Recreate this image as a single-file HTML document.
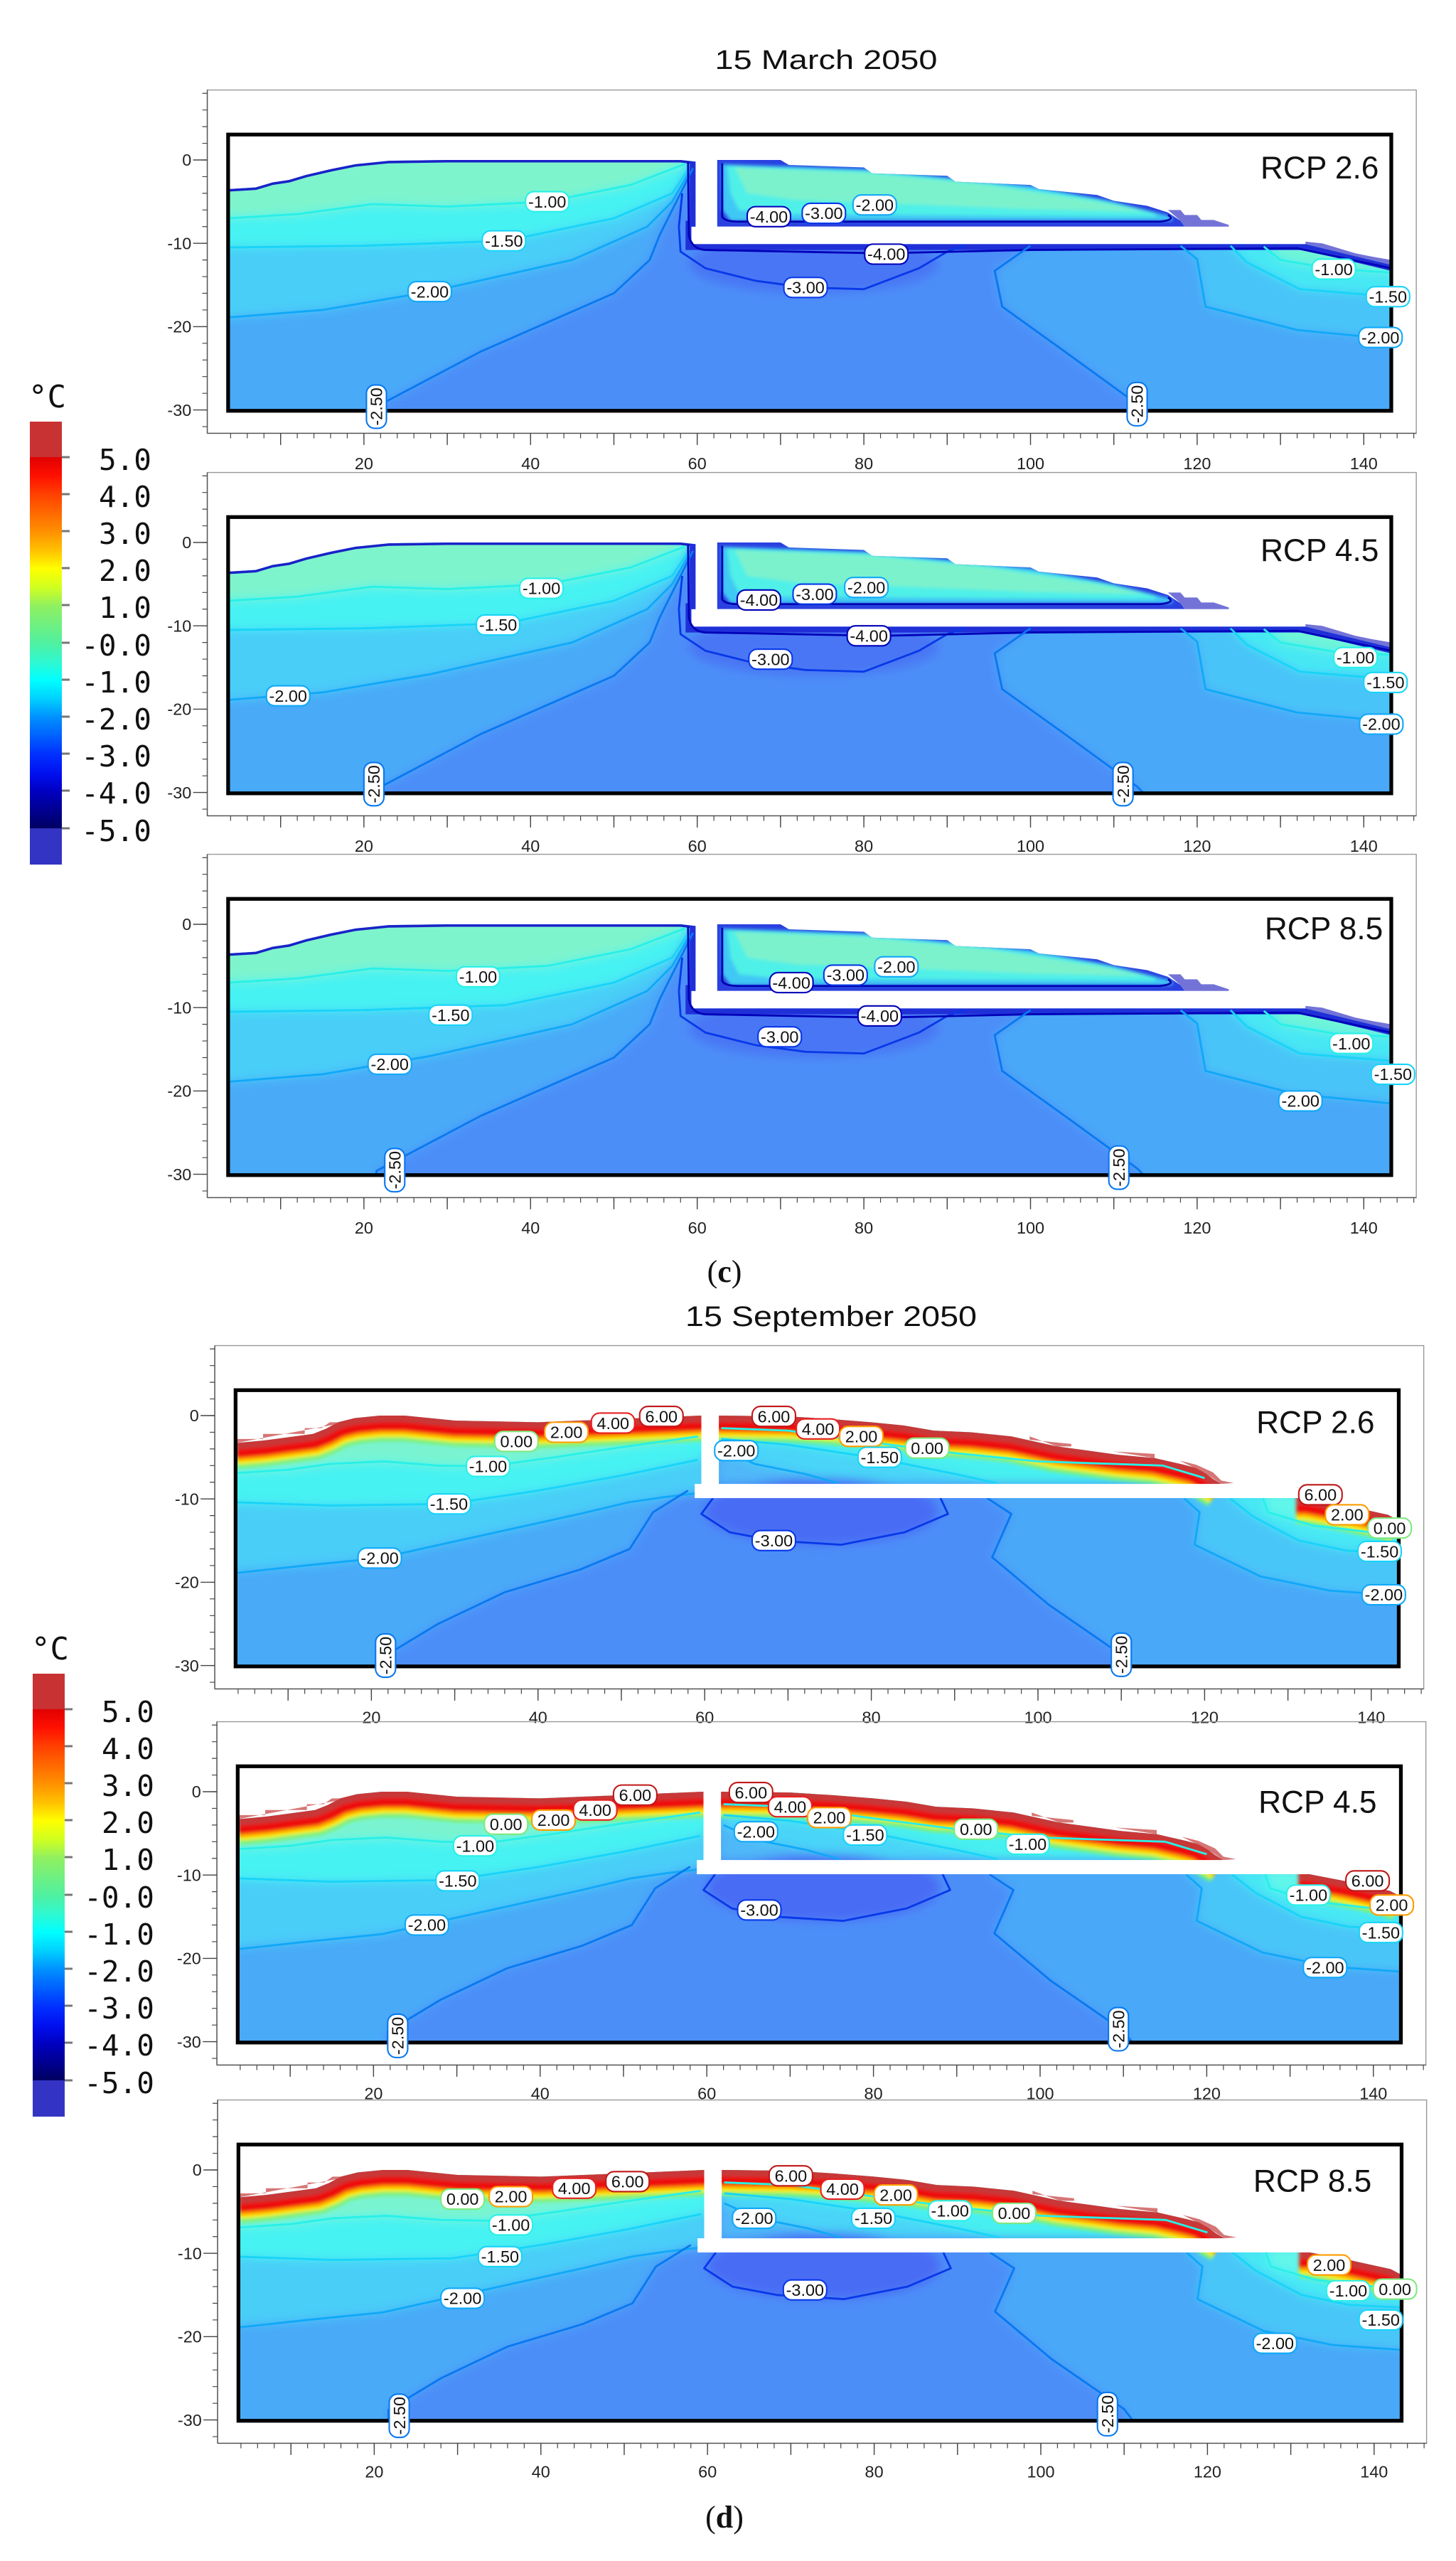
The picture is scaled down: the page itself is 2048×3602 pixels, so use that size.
<!DOCTYPE html>
<html><head><meta charset="utf-8">
<style>
html,body{margin:0;padding:0;background:#fff}
svg{display:block}
.lb{fill:#fff;stroke-width:.18}
.lt{font-family:"Liberation Sans",sans-serif;font-size:2px;text-anchor:middle;fill:#111}
.tk{font-family:"Liberation Sans",sans-serif;font-size:2px;fill:#222}
.rcp{font-family:"Liberation Sans",sans-serif;font-size:3.8px;fill:#111;text-anchor:end}
.cb{font-family:"DejaVu Sans Mono","Liberation Mono",monospace;font-size:41px;fill:#111;text-anchor:end}
.k1{stroke:#28f0e8}.k15{stroke:#18d4f8}.k2{stroke:#10a8f8}.k25{stroke:#0878f0}.k3{stroke:#0838e8}.k4{stroke:#0000b8}
.k0{stroke:#80e880}.kp2{stroke:#ff9c00}.kp4{stroke:#e82020}.kp6{stroke:#c01818}
.cl{fill:none;stroke-width:.24;stroke-linejoin:round}
</style></head>
<body>
<svg xmlns="http://www.w3.org/2000/svg" width="2048" height="3602" viewBox="0 0 2048 3602">
<defs>
<filter id="bl" filterUnits="userSpaceOnUse" x="-10" y="-15" width="170" height="60"><feGaussianBlur stdDeviation="0.6"/></filter>
<filter id="bl2" filterUnits="userSpaceOnUse" x="-10" y="-15" width="170" height="60"><feGaussianBlur stdDeviation="0.2"/></filter>
<linearGradient id="cbg" x1="0" y1="0" x2="0" y2="1">
<stop offset="0" stop-color="#e00000"/><stop offset=".05" stop-color="#ff1000"/><stop offset=".1" stop-color="#ff4000"/>
<stop offset=".2" stop-color="#ff9000"/><stop offset=".25" stop-color="#ffc000"/><stop offset=".3" stop-color="#ffff00"/>
<stop offset=".35" stop-color="#d0ff20"/><stop offset=".4" stop-color="#90f060"/><stop offset=".5" stop-color="#50f0a0"/>
<stop offset=".55" stop-color="#30f8d0"/><stop offset=".6" stop-color="#00ffff"/><stop offset=".65" stop-color="#00d0ff"/>
<stop offset=".7" stop-color="#0090ff"/><stop offset=".75" stop-color="#0060ff"/><stop offset=".8" stop-color="#0030ff"/>
<stop offset=".85" stop-color="#0010f0"/><stop offset=".9" stop-color="#0000c0"/><stop offset=".95" stop-color="#000090"/>
<stop offset="1" stop-color="#000060"/></linearGradient>

<clipPath id="mclip"><path d="M3.7,3.5 L7,3.3 L9,2.7 L11,2.4 L13,1.8 L16,1.1 L19,0.5 L23,0.1 L30,0 L58,0 L59.8,0.2 L59.8,8 L59.3,8 L59.3,10.1 L133,10.1 L143.3,12.6 L143.3,30.1 L3.7,30.1 Z"/></clipPath>
<clipPath id="mup"><path d="M62.4,0 L70,0 L71,0.6 L80,0.9 L81,1.6 L90,1.9 L91,2.6 L100,3 L101,3.5 L108,4.2 L110,4.9 L114,5.5 L116.5,6.3 L118,7.3 L118.5,8 L62.4,8 Z"/></clipPath>
<clipPath id="sclip"><path d="M3.7,3.3 L7,3.0 L10,2.6 L13,2.2 L14.5,1.6 L16,0.8 L18,0.3 L21,0 L24,0 L27,0.3 L30,0.6 L40,0.8 L50,0.4 L59.5,0 L62,0 L70,0.1 L75,0.4 L80,0.8 L84,1.2 L87.5,1.8 L92,2.0 L96.8,2.5 L100,3.2 L102.3,3.7 L106,4.2 L109.6,4.7 L114,5.1 L117.5,5.9 L119,6.3 L120.2,7 L121,7.6 L122,8.2 L122,9.9 L132.3,9.9 L137,10.8 L142,11.9 L143.3,12.6 L143.3,30.1 L3.7,30.1Z"/></clipPath>

<g id="ax">
<rect x="1.2" y="-8.4" width="145.1" height="41.2" fill="none" stroke="#999" stroke-width="0.12"/>
<line x1="1.2" y1="-8.4" x2="1.2" y2="32.8" stroke="#555" stroke-width="0.12"/>
<line x1="1.2" y1="32.8" x2="146.3" y2="32.8" stroke="#555" stroke-width="0.12"/>
<line x1="0.9" y1="-8.05" x2="0.9" y2="33" stroke="#444" stroke-width="0.6" stroke-dasharray="0.1 1.9"/>
<line x1="0.35" y1="-0.06" x2="0.35" y2="31" stroke="#444" stroke-width="1.7" stroke-dasharray="0.12 9.88"/>
<line x1="3.95" y1="33.1" x2="146.5" y2="33.1" stroke="#444" stroke-width="0.6" stroke-dasharray="0.1 1.9"/>
<line x1="9.94" y1="33.5" x2="141" y2="33.5" stroke="#444" stroke-width="1.4" stroke-dasharray="0.12 9.88"/>
</g>

<g id="mf">
<g clip-path="url(#mclip)">
<rect x="0" y="-2" width="146" height="34" fill="#4c8ef8"/>
<g filter="url(#bl)">
<path fill="#4aaaf8" d="M0,32 L21.5,32 L21.5,29.6 L34,23 L50,16 L54.3,12 L55.5,9 L58,4 L59.5,1 L60,-2 L0,-2 Z"/>
<path fill="#48cef8" d="M0,18.9 L3.7,18.9 L15,18 L28,15.8 L45,12 L54,8 L57,5 L59,1.5 L60,-2 L0,-2Z"/>
<path fill="#46f2f2" d="M0,10.5 L20,10.3 L37,9.7 L50,7 L57,4 L59,1 L60,-2 L0,-2Z"/>
<path fill="#7ef4cc" d="M0,7 L12,6.5 L21,5.3 L30,5.6 L42,5 L52,3 L58.5,0.5 L59,-2 L0,-2Z"/>
<path fill="#4aa8f8" d="M100,9 L100,10.3 L97.7,11.9 L95.7,13.3 L96.6,17.6 L104.4,23.2 L112.8,29.3 L113.5,32 L146,32 L146,9Z"/>
<path fill="#4ac4f8" d="M118,9 L118,10.3 L120,11.9 L121,17.6 L132,20.4 L146,21.5 L146,9Z"/>
<path fill="#46e8f4" d="M124,9 L124,10.3 L126,12.3 L132.3,15.5 L146,16.4 L146,9Z"/>
<path fill="#70f4d8" d="M128,9 L130,12 L136.4,13.1 L146,13.5 L146,9Z"/>
<ellipse cx="74" cy="12.5" rx="15" ry="3.5" fill="#4a76f4"/>
</g>
<path d="M3.7,3.5 L7,3.3 L9,2.7 L11,2.4 L13,1.8 L16,1.1 L19,0.5 L23,0.1 L30,0 L58,0 L59.8,0.2" fill="none" stroke="#1a22c8" stroke-width="0.6"/>
<path d="M59.8,0.2 L59.8,8 L59.3,8 L59.3,10.1 L133,10.1 L143.3,12.6" fill="none" stroke="#2030d8" stroke-width="1.4"/>
</g>
<g clip-path="url(#mup)">
<rect x="60" y="-1" width="62" height="10" fill="#2a40e0"/>
<g filter="url(#bl2)">
<path fill="#40c8f4" d="M62.9,0.5 L80,1.1 L100,3.1 L110,5 L117,6.8 L117,7.3 L64,7.3 L63,6 Z"/>
<path fill="#50f0e8" d="M63.6,0.7 L80,1.3 L95,2.8 L108,4.7 L115,6.4 L115,6.8 L100,6.7 L70,6.5 L65,6 L64,4 Z"/>
<path fill="#7cf2cc" d="M64.5,0.9 L80,1.5 L95,3 L108,5 L114,6.2 L100,5.9 L85,5.3 L72,4.8 L66,4 Z"/>
</g>
<path class="cl" stroke="#0000b0" stroke-width="0.3" d="M63,0.4 L63,6.8 Q63.3,7.4 65,7.4 L115.5,7.4 Q117.5,7.2 116.5,6.6"/>
</g>
<path fill="#5a5ad0" opacity="0.85" d="M116.5,6 L118,6 L118.5,6.6 L120,6.6 L120.5,7.2 L122,7.2 L123.8,7.8 L123.8,8 L118.5,8 L118,7.3Z"/>
<path fill="#5a5ad0" opacity="0.85" d="M133,9.8 L135,10 L137,10.6 L139,11.2 L141,11.6 L143.3,12 L143.3,12.6 L133,10.1Z"/>
<g>
<path class="cl k1" d="M3.7,7 L12,6.5 L21,5.3 L30,5.6 L42,5 L52,3 L58.5,0.5"/>
<path class="cl k15" d="M3.7,10.5 L20,10.3 L37,9.7 L50,7 L57,4 L59,1"/>
<path class="cl k2" d="M3.7,18.9 L15,18 L28,15.8 L45,12 L54,8 L57,5 L59,1.5"/>
<path class="cl k25" d="M21.5,30 L21.5,29.6 L34,23 L50,16 L54.3,12 L55.5,9 L58,4 L59.5,1"/>
<path class="cl k3" d="M58.2,4 L57.8,8 L58,11 L61,13 L67,14.5 L73,15.3 L80,15.5 L86.6,13 L90,11 L92,10.3"/>
<path class="cl k4" stroke-width="0.35" d="M58.9,0.3 L59,9 Q59.3,10.7 61,10.8 L82,11.2 L100,10.8 L132,10.6 L143.3,13"/>
<path class="cl k25" d="M100,10.3 L97.7,11.9 L95.7,13.3 L96.6,17.6 L104.4,23.2 L112.8,29.3 L113.5,30"/>
<path class="cl k2" d="M118,10.3 L120,11.9 L121,17.6 L132,20.4 L143.3,21.5"/>
<path class="cl k15" d="M124,10.3 L126,12.3 L132.3,15.5 L143.3,16.4"/>
<path class="cl k1" d="M128,10.4 L130,12 L136.4,13.1 L143.3,13.5"/>
</g>
<rect x="3.7" y="-3.05" width="139.6" height="33.15" fill="none" stroke="#000" stroke-width="0.45"/>
</g>

<g id="sf">
<g clip-path="url(#sclip)">
<rect x="0" y="-2" width="146" height="34" fill="#4c8ef8"/>
<g filter="url(#bl)">
<path fill="#4aaaf8" d="M0,32 L21.7,32 L21.7,28.8 L28,25 L36,21.2 L45,18.5 L51,16 L53.8,11.6 L58,9 L61,8 L61,-2 L0,-2Z"/>
<path fill="#48cef8" d="M0,18.9 L12,18 L21,17.1 L35,14 L45,11.8 L50.9,10.4 L55,9.8 L59.2,9.3 L61,8 L61,-2 L0,-2Z"/>
<path fill="#46f2f2" d="M0,10.4 L15,10.8 L29.3,10.6 L40,9 L50,7.2 L59.2,5.3 L61,4 L61,-2 L0,-2Z"/>
<path fill="#7af4d0" d="M0,6.9 L10,6.5 L15,5.8 L21.5,5.5 L28,6 L34,6.1 L42,5 L50,3.8 L59.2,2.5 L61,2 L61,-2 L0,-2Z"/>
<rect x="61.5" y="-1" width="62" height="9.2" fill="#50b8f8"/>
<path fill="#48d4f8" d="M61.5,4 L66,5.8 L72,7 L76,8.2 L123,8.2 L123,-2 L61.5,-2Z"/>
<path fill="#46f0f0" d="M61.5,2.8 L70,3.5 L80,5 L90,7 L95,8.2 L123,8.2 L123,-2 L61.5,-2Z"/>
<path fill="#72f4d8" d="M61.5,1.5 L70,1.8 L80,3.2 L90,4.5 L100,5.5 L115,6 L120,7.5 L123,7.5 L123,-2 L61.5,-2Z"/>
<path fill="#4aa8f8" d="M93.9,9 L93.9,9.9 L96.8,11.8 L94.5,17 L101.3,22.7 L110,28.7 L111,32 L146,32 L146,9Z"/>
<path fill="#4ac6f8" d="M117.5,9 L117.5,9.9 L119.4,11.6 L118.8,15.5 L126.7,19.3 L135,21 L146,21.6 L146,9Z"/>
<path fill="#46e8f4" d="M123,9 L123,9.9 L125.8,12.1 L131.3,15 L137,16.2 L146,16.5 L146,9Z"/>
<path fill="#60f6ea" d="M127,9 L127.6,11.6 L133,13.2 L140,14 L146,14.2 L146,9Z"/>
<ellipse cx="74" cy="11.5" rx="14" ry="4" fill="#4a6cf4"/>
</g>
<g filter="url(#bl2)" fill="none" stroke-linejoin="round">
<path d="M3.7,3.3 L7,3.0 L10,2.6 L13,2.2 L14.5,1.6 L16,0.8 L18,0.3 L21,0 L24,0 L27,0.3 L30,0.6 L40,0.8 L50,0.4 L59.5,0 L62,0 L70,0.1 L75,0.4 L80,0.8 L84,1.2 L87.5,1.8 L92,2.0 L96.8,2.5 L100,3.2 L102.3,3.7 L106,4.2 L109.6,4.7 L114,5.1 L117.5,5.9 L119,6.3 L120.2,7 L121,7.6 L122,8.2" stroke="#7cf07c" stroke-width="6.2"/>
<path d="M3.7,3.3 L7,3.0 L10,2.6 L13,2.2 L14.5,1.6 L16,0.8 L18,0.3 L21,0 L24,0 L27,0.3 L30,0.6 L40,0.8 L50,0.4 L59.5,0 L62,0 L70,0.1 L75,0.4 L80,0.8 L84,1.2 L87.5,1.8 L92,2.0 L96.8,2.5 L100,3.2 L102.3,3.7 L106,4.2 L109.6,4.7 L114,5.1 L117.5,5.9 L119,6.3 L120.2,7 L121,7.6 L122,8.2" stroke="#f8f000" stroke-width="5.2"/>
<path d="M3.7,3.3 L7,3.0 L10,2.6 L13,2.2 L14.5,1.6 L16,0.8 L18,0.3 L21,0 L24,0 L27,0.3 L30,0.6 L40,0.8 L50,0.4 L59.5,0 L62,0 L70,0.1 L75,0.4 L80,0.8 L84,1.2 L87.5,1.8 L92,2.0 L96.8,2.5 L100,3.2 L102.3,3.7 L106,4.2 L109.6,4.7 L114,5.1 L117.5,5.9 L119,6.3 L120.2,7 L121,7.6 L122,8.2" stroke="#ffa000" stroke-width="4.4"/>
<path d="M3.7,3.3 L7,3.0 L10,2.6 L13,2.2 L14.5,1.6 L16,0.8 L18,0.3 L21,0 L24,0 L27,0.3 L30,0.6 L40,0.8 L50,0.4 L59.5,0 L62,0 L70,0.1 L75,0.4 L80,0.8 L84,1.2 L87.5,1.8 L92,2.0 L96.8,2.5 L100,3.2 L102.3,3.7 L106,4.2 L109.6,4.7 L114,5.1 L117.5,5.9 L119,6.3 L120.2,7 L121,7.6 L122,8.2" stroke="#ee1010" stroke-width="3.6"/>
<path d="M3.7,3.3 L7,3.0 L10,2.6 L13,2.2 L14.5,1.6 L16,0.8 L18,0.3 L21,0 L24,0 L27,0.3 L30,0.6 L40,0.8 L50,0.4 L59.5,0 L62,0 L70,0.1 L75,0.4 L80,0.8 L84,1.2 L87.5,1.8 L92,2.0 L96.8,2.5 L100,3.2 L102.3,3.7 L106,4.2 L109.6,4.7 L114,5.1 L117.5,5.9 L119,6.3 L120.2,7 L121,7.6 L122,8.2" stroke="#c83838" stroke-width="1.6"/>
<path d="M131,9.9 L132.3,9.9 L137,10.8 L142,11.9 L143.5,12.6" stroke="#7cf07c" stroke-width="6.2"/>
<path d="M131,9.9 L132.3,9.9 L137,10.8 L142,11.9 L143.5,12.6" stroke="#f8f000" stroke-width="5.2"/>
<path d="M131,9.9 L132.3,9.9 L137,10.8 L142,11.9 L143.5,12.6" stroke="#ffa000" stroke-width="4.4"/>
<path d="M131,9.9 L132.3,9.9 L137,10.8 L142,11.9 L143.5,12.6" stroke="#ee1010" stroke-width="3.6"/>
<path d="M131,9.9 L132.3,9.9 L137,10.8 L142,11.9 L143.5,12.6" stroke="#c83838" stroke-width="1.6"/>
</g>
</g>
<path fill="#c84848" opacity="0.75" d="M3.7,3.3 L3.7,2.8 L7,2.8 L7,2.2 L12,2.2 L12,1.5 L14,1.5 L15,0.8 L16,0.8 L16,0.3 L16,1 Z"/>
<path fill="#c84848" opacity="0.75" d="M99,2.5 L99,2.9 L104,3.4 L104,3.7 L102.3,3.7 Z M109,4.3 L114,4.6 L114,5.1 Z M117,5.4 L119,5.9 L121,6.8 L122,7.8 L123.5,8.1 L122,8.2 L120.2,7 Z"/>
<g>
<path class="cl k1" d="M3.7,6.9 L10,6.5 L15,5.8 L21.5,5.5 L28,6 L34,6.1 L42,5 L50,3.8 L59.2,2.5"/>
<path class="cl k15" d="M3.7,10.4 L15,10.8 L29.3,10.6 L40,9 L50,7.2 L59.2,5.3"/>
<path class="cl k2" d="M3.7,18.9 L12,18 L21,17.1 L35,14 L45,11.8 L50.9,10.4 L55,9.8 L59.2,9.3"/>
<path class="cl k25" d="M21.7,30 L21.7,28.8 L28,25 L36,21.2 L45,18.5 L51,16 L53.8,11.6 L58,9"/>
<path class="cl k3" d="M61,9.9 L59.6,11.8 L63,14 L68.3,15 L76.4,15.5 L84,14 L89.2,11.8 L88.3,9.9"/>
<path class="cl k25" d="M93.9,9.9 L96.8,11.8 L94.5,17 L101.3,22.7 L110,28.7 L111,30"/>
<path class="cl k2" d="M117.5,9.9 L119.4,11.6 L118.8,15.5 L126.7,19.3 L135,21 L143.3,21.6"/>
<path class="cl k15" d="M123,9.9 L125.8,12.1 L131.3,15 L137,16.2 L143.3,16.5"/>
<path class="cl k1" d="M127,9.9 L127.6,11.6 L133,13.2 L140,14 L143.3,14.2"/>
<path class="cl k1" d="M62,1.5 L70,1.8 L80,3.2 L90,4.5 L100,5.5 L115,6 L120,7.5"/>
<path class="cl k15" d="M62,2.8 L70,3.5 L80,5 L90,7 L95,8.1"/>
<path class="cl k2" d="M62,4 L66,5.8 L72,7 L76,8.1"/>
</g>
<rect x="59.6" y="-0.5" width="2.1" height="10.4" fill="#fff"/>
<rect x="58.8" y="8.2" width="64.5" height="1.7" fill="#fff"/>
<rect x="3.7" y="-3.05" width="139.6" height="33.15" fill="none" stroke="#000" stroke-width="0.45"/>
</g>
</defs>

<!-- Titles -->
<text x="1162" y="97" font-family="Liberation Sans, sans-serif" font-size="38" text-anchor="middle" textLength="313" lengthAdjust="spacingAndGlyphs" fill="#111">15  March  2050</text>
<text x="1169" y="1865" font-family="Liberation Sans, sans-serif" font-size="40" text-anchor="middle" textLength="410" lengthAdjust="spacingAndGlyphs" fill="#111">15  September  2050</text>
<text x="1019" y="1803" font-family="Liberation Serif, serif" font-size="44" text-anchor="middle" fill="#111">(<tspan font-weight="bold">c</tspan>)</text>
<text x="1019" y="3555" font-family="Liberation Serif, serif" font-size="44" text-anchor="middle" fill="#111">(<tspan font-weight="bold">d</tspan>)</text>

<!-- Colorbars -->
<g>
<text x="40" y="573" font-family="DejaVu Sans Mono, monospace" font-size="44" fill="#111">°C</text>
<rect x="42" y="593" width="45" height="51" fill="#c83232"/>
<rect x="42" y="643" width="45" height="523" fill="url(#cbg)"/>
<rect x="42" y="1165" width="45" height="51" fill="#3434c4"/>
<line x1="87" y1="643" x2="98" y2="643" stroke="#777" stroke-width="3"/>
<line x1="87" y1="695" x2="98" y2="695" stroke="#777" stroke-width="3"/>
<line x1="87" y1="747" x2="98" y2="747" stroke="#777" stroke-width="3"/>
<line x1="87" y1="799" x2="98" y2="799" stroke="#777" stroke-width="3"/>
<line x1="87" y1="851" x2="98" y2="851" stroke="#777" stroke-width="3"/>
<line x1="87" y1="904" x2="98" y2="904" stroke="#777" stroke-width="3"/>
<line x1="87" y1="956" x2="98" y2="956" stroke="#777" stroke-width="3"/>
<line x1="87" y1="1008" x2="98" y2="1008" stroke="#777" stroke-width="3"/>
<line x1="87" y1="1060" x2="98" y2="1060" stroke="#777" stroke-width="3"/>
<line x1="87" y1="1112" x2="98" y2="1112" stroke="#777" stroke-width="3"/>
<line x1="87" y1="1165" x2="98" y2="1165" stroke="#777" stroke-width="3"/>
<text class="cb" x="213" y="661">5.0</text>
<text class="cb" x="213" y="713">4.0</text>
<text class="cb" x="213" y="765">3.0</text>
<text class="cb" x="213" y="817">2.0</text>
<text class="cb" x="213" y="869">1.0</text>
<text class="cb" x="213" y="922">-0.0</text>
<text class="cb" x="213" y="974">-1.0</text>
<text class="cb" x="213" y="1026">-2.0</text>
<text class="cb" x="213" y="1078">-3.0</text>
<text class="cb" x="213" y="1130">-4.0</text>
<text class="cb" x="213" y="1183">-5.0</text>
</g>
<g transform="translate(4,1761)">
<text x="40" y="573" font-family="DejaVu Sans Mono, monospace" font-size="44" fill="#111">°C</text>
<rect x="42" y="593" width="45" height="51" fill="#c83232"/>
<rect x="42" y="643" width="45" height="523" fill="url(#cbg)"/>
<rect x="42" y="1165" width="45" height="51" fill="#3434c4"/>
<line x1="87" y1="643" x2="98" y2="643" stroke="#777" stroke-width="3"/>
<line x1="87" y1="695" x2="98" y2="695" stroke="#777" stroke-width="3"/>
<line x1="87" y1="747" x2="98" y2="747" stroke="#777" stroke-width="3"/>
<line x1="87" y1="799" x2="98" y2="799" stroke="#777" stroke-width="3"/>
<line x1="87" y1="851" x2="98" y2="851" stroke="#777" stroke-width="3"/>
<line x1="87" y1="904" x2="98" y2="904" stroke="#777" stroke-width="3"/>
<line x1="87" y1="956" x2="98" y2="956" stroke="#777" stroke-width="3"/>
<line x1="87" y1="1008" x2="98" y2="1008" stroke="#777" stroke-width="3"/>
<line x1="87" y1="1060" x2="98" y2="1060" stroke="#777" stroke-width="3"/>
<line x1="87" y1="1112" x2="98" y2="1112" stroke="#777" stroke-width="3"/>
<line x1="87" y1="1165" x2="98" y2="1165" stroke="#777" stroke-width="3"/>
<text class="cb" x="213" y="661">5.0</text>
<text class="cb" x="213" y="713">4.0</text>
<text class="cb" x="213" y="765">3.0</text>
<text class="cb" x="213" y="817">2.0</text>
<text class="cb" x="213" y="869">1.0</text>
<text class="cb" x="213" y="922">-0.0</text>
<text class="cb" x="213" y="974">-1.0</text>
<text class="cb" x="213" y="1026">-2.0</text>
<text class="cb" x="213" y="1078">-3.0</text>
<text class="cb" x="213" y="1130">-4.0</text>
<text class="cb" x="213" y="1183">-5.0</text>
</g>

<!-- ================= March panel 1 ================= -->
<g transform="translate(277.5,225) scale(11.72)">
<use href="#ax"/><use href="#mf"/>
<text class="tk" x="-0.7" y="0.7" text-anchor="end">0</text><text class="tk" x="-0.7" y="10.7" text-anchor="end">-10</text><text class="tk" x="-0.7" y="20.7" text-anchor="end">-20</text><text class="tk" x="-0.7" y="30.7" text-anchor="end">-30</text>
<text class="tk" x="20" y="37.1" text-anchor="middle">20</text><text class="tk" x="40" y="37.1" text-anchor="middle">40</text><text class="tk" x="60" y="37.1" text-anchor="middle">60</text><text class="tk" x="80" y="37.1" text-anchor="middle">80</text><text class="tk" x="100" y="37.1" text-anchor="middle">100</text><text class="tk" x="120" y="37.1" text-anchor="middle">120</text><text class="tk" x="140" y="37.1" text-anchor="middle">140</text>
<text class="rcp" x="141.8" y="2.2" textLength="14.2" lengthAdjust="spacingAndGlyphs">RCP 2.6</text>
<g transform="translate(42,5)"><rect class="lb k1" x="-2.6" y="-1.2" width="5.2" height="2.4" rx="1"/><text class="lt" y="0.7">-1.00</text></g>
<g transform="translate(36.8,9.7)"><rect class="lb k15" x="-2.6" y="-1.2" width="5.2" height="2.4" rx="1"/><text class="lt" y="0.7">-1.50</text></g>
<g transform="translate(27.9,15.8)"><rect class="lb k2" x="-2.6" y="-1.2" width="5.2" height="2.4" rx="1"/><text class="lt" y="0.7">-2.00</text></g>
<g transform="translate(21.5,29.6) rotate(-90)"><rect class="lb k25" x="-2.6" y="-1.2" width="5.2" height="2.4" rx="1"/><text class="lt" y="0.7">-2.50</text></g>
<g transform="translate(68.6,6.8)"><rect class="lb k4" x="-2.6" y="-1.2" width="5.2" height="2.4" rx="1"/><text class="lt" y="0.7">-4.00</text></g>
<g transform="translate(75.2,6.4)"><rect class="lb k3" x="-2.6" y="-1.2" width="5.2" height="2.4" rx="1"/><text class="lt" y="0.7">-3.00</text></g>
<g transform="translate(81.3,5.4)"><rect class="lb k2" x="-2.6" y="-1.2" width="5.2" height="2.4" rx="1"/><text class="lt" y="0.7">-2.00</text></g>
<g transform="translate(82.7,11.3)"><rect class="lb k4" x="-2.6" y="-1.2" width="5.2" height="2.4" rx="1"/><text class="lt" y="0.7">-4.00</text></g>
<g transform="translate(73,15.3)"><rect class="lb k3" x="-2.6" y="-1.2" width="5.2" height="2.4" rx="1"/><text class="lt" y="0.7">-3.00</text></g>
<g transform="translate(112.8,29.3) rotate(-90)"><rect class="lb k25" x="-2.6" y="-1.2" width="5.2" height="2.4" rx="1"/><text class="lt" y="0.7">-2.50</text></g>
<g transform="translate(136.4,13.1)"><rect class="lb k1" x="-2.6" y="-1.2" width="5.2" height="2.4" rx="1"/><text class="lt" y="0.7">-1.00</text></g>
<g transform="translate(142.9,16.4)"><rect class="lb k15" x="-2.6" y="-1.2" width="5.2" height="2.4" rx="1"/><text class="lt" y="0.7">-1.50</text></g>
<g transform="translate(142,21.3)"><rect class="lb k2" x="-2.6" y="-1.2" width="5.2" height="2.4" rx="1"/><text class="lt" y="0.7">-2.00</text></g>
</g>

<!-- ================= March panel 2 ================= -->
<g transform="translate(277.5,763) scale(11.72)">
<use href="#ax"/><use href="#mf"/>
<text class="tk" x="-0.7" y="0.7" text-anchor="end">0</text><text class="tk" x="-0.7" y="10.7" text-anchor="end">-10</text><text class="tk" x="-0.7" y="20.7" text-anchor="end">-20</text><text class="tk" x="-0.7" y="30.7" text-anchor="end">-30</text>
<text class="tk" x="20" y="37.1" text-anchor="middle">20</text><text class="tk" x="40" y="37.1" text-anchor="middle">40</text><text class="tk" x="60" y="37.1" text-anchor="middle">60</text><text class="tk" x="80" y="37.1" text-anchor="middle">80</text><text class="tk" x="100" y="37.1" text-anchor="middle">100</text><text class="tk" x="120" y="37.1" text-anchor="middle">120</text><text class="tk" x="140" y="37.1" text-anchor="middle">140</text>
<text class="rcp" x="141.8" y="2.2" textLength="14.2" lengthAdjust="spacingAndGlyphs">RCP 4.5</text>
<g transform="translate(41.3,5.5)"><rect class="lb k1" x="-2.6" y="-1.2" width="5.2" height="2.4" rx="1"/><text class="lt" y="0.7">-1.00</text></g>
<g transform="translate(36.1,9.9)"><rect class="lb k15" x="-2.6" y="-1.2" width="5.2" height="2.4" rx="1"/><text class="lt" y="0.7">-1.50</text></g>
<g transform="translate(10.9,18.4)"><rect class="lb k2" x="-2.6" y="-1.2" width="5.2" height="2.4" rx="1"/><text class="lt" y="0.7">-2.00</text></g>
<g transform="translate(21.2,29) rotate(-90)"><rect class="lb k25" x="-2.6" y="-1.2" width="5.2" height="2.4" rx="1"/><text class="lt" y="0.7">-2.50</text></g>
<g transform="translate(67.4,6.9)"><rect class="lb k4" x="-2.6" y="-1.2" width="5.2" height="2.4" rx="1"/><text class="lt" y="0.7">-4.00</text></g>
<g transform="translate(74.1,6.2)"><rect class="lb k3" x="-2.6" y="-1.2" width="5.2" height="2.4" rx="1"/><text class="lt" y="0.7">-3.00</text></g>
<g transform="translate(80.3,5.4)"><rect class="lb k2" x="-2.6" y="-1.2" width="5.2" height="2.4" rx="1"/><text class="lt" y="0.7">-2.00</text></g>
<g transform="translate(80.6,11.2)"><rect class="lb k4" x="-2.6" y="-1.2" width="5.2" height="2.4" rx="1"/><text class="lt" y="0.7">-4.00</text></g>
<g transform="translate(68.8,14)"><rect class="lb k3" x="-2.6" y="-1.2" width="5.2" height="2.4" rx="1"/><text class="lt" y="0.7">-3.00</text></g>
<g transform="translate(111.1,29) rotate(-90)"><rect class="lb k25" x="-2.6" y="-1.2" width="5.2" height="2.4" rx="1"/><text class="lt" y="0.7">-2.50</text></g>
<g transform="translate(139,13.8)"><rect class="lb k1" x="-2.6" y="-1.2" width="5.2" height="2.4" rx="1"/><text class="lt" y="0.7">-1.00</text></g>
<g transform="translate(142.6,16.8)"><rect class="lb k15" x="-2.6" y="-1.2" width="5.2" height="2.4" rx="1"/><text class="lt" y="0.7">-1.50</text></g>
<g transform="translate(142.1,21.8)"><rect class="lb k2" x="-2.6" y="-1.2" width="5.2" height="2.4" rx="1"/><text class="lt" y="0.7">-2.00</text></g>
</g>

<!-- ================= March panel 3 ================= -->
<g transform="translate(277.5,1300) scale(11.72)">
<use href="#ax"/><use href="#mf"/>
<text class="tk" x="-0.7" y="0.7" text-anchor="end">0</text><text class="tk" x="-0.7" y="10.7" text-anchor="end">-10</text><text class="tk" x="-0.7" y="20.7" text-anchor="end">-20</text><text class="tk" x="-0.7" y="30.7" text-anchor="end">-30</text>
<text class="tk" x="20" y="37.1" text-anchor="middle">20</text><text class="tk" x="40" y="37.1" text-anchor="middle">40</text><text class="tk" x="60" y="37.1" text-anchor="middle">60</text><text class="tk" x="80" y="37.1" text-anchor="middle">80</text><text class="tk" x="100" y="37.1" text-anchor="middle">100</text><text class="tk" x="120" y="37.1" text-anchor="middle">120</text><text class="tk" x="140" y="37.1" text-anchor="middle">140</text>
<text class="rcp" x="142.3" y="1.8" textLength="14.2" lengthAdjust="spacingAndGlyphs">RCP 8.5</text>
<g transform="translate(33.7,6.3)"><rect class="lb k1" x="-2.6" y="-1.2" width="5.2" height="2.4" rx="1"/><text class="lt" y="0.7">-1.00</text></g>
<g transform="translate(30.4,10.9)"><rect class="lb k15" x="-2.6" y="-1.2" width="5.2" height="2.4" rx="1"/><text class="lt" y="0.7">-1.50</text></g>
<g transform="translate(23.1,16.8)"><rect class="lb k2" x="-2.6" y="-1.2" width="5.2" height="2.4" rx="1"/><text class="lt" y="0.7">-2.00</text></g>
<g transform="translate(23.7,29.5) rotate(-90)"><rect class="lb k25" x="-2.6" y="-1.2" width="5.2" height="2.4" rx="1"/><text class="lt" y="0.7">-2.50</text></g>
<g transform="translate(71.3,7)"><rect class="lb k4" x="-2.6" y="-1.2" width="5.2" height="2.4" rx="1"/><text class="lt" y="0.7">-4.00</text></g>
<g transform="translate(77.8,6.1)"><rect class="lb k3" x="-2.6" y="-1.2" width="5.2" height="2.4" rx="1"/><text class="lt" y="0.7">-3.00</text></g>
<g transform="translate(83.9,5.1)"><rect class="lb k2" x="-2.6" y="-1.2" width="5.2" height="2.4" rx="1"/><text class="lt" y="0.7">-2.00</text></g>
<g transform="translate(81.9,11)"><rect class="lb k4" x="-2.6" y="-1.2" width="5.2" height="2.4" rx="1"/><text class="lt" y="0.7">-4.00</text></g>
<g transform="translate(69.9,13.5)"><rect class="lb k3" x="-2.6" y="-1.2" width="5.2" height="2.4" rx="1"/><text class="lt" y="0.7">-3.00</text></g>
<g transform="translate(110.6,29.2) rotate(-90)"><rect class="lb k25" x="-2.6" y="-1.2" width="5.2" height="2.4" rx="1"/><text class="lt" y="0.7">-2.50</text></g>
<g transform="translate(138.5,14.3)"><rect class="lb k1" x="-2.6" y="-1.2" width="5.2" height="2.4" rx="1"/><text class="lt" y="0.7">-1.00</text></g>
<g transform="translate(143.5,18)"><rect class="lb k15" x="-2.6" y="-1.2" width="5.2" height="2.4" rx="1"/><text class="lt" y="0.7">-1.50</text></g>
<g transform="translate(132.4,21.2)"><rect class="lb k2" x="-2.6" y="-1.2" width="5.2" height="2.4" rx="1"/><text class="lt" y="0.7">-2.00</text></g>
</g>

<!-- ================= September panel 1 ================= -->
<g transform="translate(288,1991) scale(11.72)">
<use href="#ax"/><use href="#sf"/>
<text class="tk" x="-0.7" y="0.7" text-anchor="end">0</text><text class="tk" x="-0.7" y="10.7" text-anchor="end">-10</text><text class="tk" x="-0.7" y="20.7" text-anchor="end">-20</text><text class="tk" x="-0.7" y="30.7" text-anchor="end">-30</text>
<text class="tk" x="20" y="36.9" text-anchor="middle">20</text><text class="tk" x="40" y="36.9" text-anchor="middle">40</text><text class="tk" x="60" y="36.9" text-anchor="middle">60</text><text class="tk" x="80" y="36.9" text-anchor="middle">80</text><text class="tk" x="100" y="36.9" text-anchor="middle">100</text><text class="tk" x="120" y="36.9" text-anchor="middle">120</text><text class="tk" x="140" y="36.9" text-anchor="middle">140</text>
<text class="rcp" x="140.4" y="2.1" textLength="14.2" lengthAdjust="spacingAndGlyphs">RCP 2.6</text>
<g transform="translate(37.4,3.1)"><rect class="lb k0" x="-2.6" y="-1.2" width="5.2" height="2.4" rx="1"/><text class="lt" y="0.7">0.00</text></g>
<g transform="translate(43.4,2)"><rect class="lb kp2" x="-2.6" y="-1.2" width="5.2" height="2.4" rx="1"/><text class="lt" y="0.7">2.00</text></g>
<g transform="translate(49,0.9)"><rect class="lb kp4" x="-2.6" y="-1.2" width="5.2" height="2.4" rx="1"/><text class="lt" y="0.7">4.00</text></g>
<g transform="translate(54.8,0.1)"><rect class="lb kp6" x="-2.6" y="-1.2" width="5.2" height="2.4" rx="1"/><text class="lt" y="0.7">6.00</text></g>
<g transform="translate(34,6.1)"><rect class="lb k1" x="-2.6" y="-1.2" width="5.2" height="2.4" rx="1"/><text class="lt" y="0.7">-1.00</text></g>
<g transform="translate(29.3,10.6)"><rect class="lb k15" x="-2.6" y="-1.2" width="5.2" height="2.4" rx="1"/><text class="lt" y="0.7">-1.50</text></g>
<g transform="translate(21,17.1)"><rect class="lb k2" x="-2.6" y="-1.2" width="5.2" height="2.4" rx="1"/><text class="lt" y="0.7">-2.00</text></g>
<g transform="translate(21.7,28.8) rotate(-90)"><rect class="lb k25" x="-2.6" y="-1.2" width="5.2" height="2.4" rx="1"/><text class="lt" y="0.7">-2.50</text></g>
<g transform="translate(68.3,0.1)"><rect class="lb kp6" x="-2.6" y="-1.2" width="5.2" height="2.4" rx="1"/><text class="lt" y="0.7">6.00</text></g>
<g transform="translate(73.6,1.6)"><rect class="lb kp4" x="-2.6" y="-1.2" width="5.2" height="2.4" rx="1"/><text class="lt" y="0.7">4.00</text></g>
<g transform="translate(78.8,2.5)"><rect class="lb kp2" x="-2.6" y="-1.2" width="5.2" height="2.4" rx="1"/><text class="lt" y="0.7">2.00</text></g>
<g transform="translate(81,5)"><rect class="lb k15" x="-2.6" y="-1.2" width="5.2" height="2.4" rx="1"/><text class="lt" y="0.7">-1.50</text></g>
<g transform="translate(86.7,3.9)"><rect class="lb k0" x="-2.6" y="-1.2" width="5.2" height="2.4" rx="1"/><text class="lt" y="0.7">0.00</text></g>
<g transform="translate(63.8,4.2)"><rect class="lb k2" x="-2.6" y="-1.2" width="5.2" height="2.4" rx="1"/><text class="lt" y="0.7">-2.00</text></g>
<g transform="translate(68.3,15)"><rect class="lb k3" x="-2.6" y="-1.2" width="5.2" height="2.4" rx="1"/><text class="lt" y="0.7">-3.00</text></g>
<g transform="translate(110,28.7) rotate(-90)"><rect class="lb k25" x="-2.6" y="-1.2" width="5.2" height="2.4" rx="1"/><text class="lt" y="0.7">-2.50</text></g>
<g transform="translate(133.9,9.5)"><rect class="lb kp6" x="-2.6" y="-1.2" width="5.2" height="2.4" rx="1"/><text class="lt" y="0.7">6.00</text></g>
<g transform="translate(137.1,11.9)"><rect class="lb kp2" x="-2.6" y="-1.2" width="5.2" height="2.4" rx="1"/><text class="lt" y="0.7">2.00</text></g>
<g transform="translate(142.2,13.5)"><rect class="lb k0" x="-2.6" y="-1.2" width="5.2" height="2.4" rx="1"/><text class="lt" y="0.7">0.00</text></g>
<g transform="translate(141,16.3)"><rect class="lb k15" x="-2.6" y="-1.2" width="5.2" height="2.4" rx="1"/><text class="lt" y="0.7">-1.50</text></g>
<g transform="translate(141.5,21.5)"><rect class="lb k2" x="-2.6" y="-1.2" width="5.2" height="2.4" rx="1"/><text class="lt" y="0.7">-2.00</text></g>
</g>

<!-- ================= September panel 2 ================= -->
<g transform="translate(291,2520) scale(11.72)">
<use href="#ax"/><use href="#sf"/>
<text class="tk" x="-0.7" y="0.7" text-anchor="end">0</text><text class="tk" x="-0.7" y="10.7" text-anchor="end">-10</text><text class="tk" x="-0.7" y="20.7" text-anchor="end">-20</text><text class="tk" x="-0.7" y="30.7" text-anchor="end">-30</text>
<text class="tk" x="20" y="36.9" text-anchor="middle">20</text><text class="tk" x="40" y="36.9" text-anchor="middle">40</text><text class="tk" x="60" y="36.9" text-anchor="middle">60</text><text class="tk" x="80" y="36.9" text-anchor="middle">80</text><text class="tk" x="100" y="36.9" text-anchor="middle">100</text><text class="tk" x="120" y="36.9" text-anchor="middle">120</text><text class="tk" x="140" y="36.9" text-anchor="middle">140</text>
<text class="rcp" x="140.4" y="2.5" textLength="14.2" lengthAdjust="spacingAndGlyphs">RCP 4.5</text>
<g transform="translate(35.9,3.9)"><rect class="lb k0" x="-2.6" y="-1.2" width="5.2" height="2.4" rx="1"/><text class="lt" y="0.7">0.00</text></g>
<g transform="translate(41.6,3.4)"><rect class="lb kp2" x="-2.6" y="-1.2" width="5.2" height="2.4" rx="1"/><text class="lt" y="0.7">2.00</text></g>
<g transform="translate(46.6,2.2)"><rect class="lb kp4" x="-2.6" y="-1.2" width="5.2" height="2.4" rx="1"/><text class="lt" y="0.7">4.00</text></g>
<g transform="translate(51.4,0.4)"><rect class="lb kp6" x="-2.6" y="-1.2" width="5.2" height="2.4" rx="1"/><text class="lt" y="0.7">6.00</text></g>
<g transform="translate(32.2,6.5)"><rect class="lb k1" x="-2.6" y="-1.2" width="5.2" height="2.4" rx="1"/><text class="lt" y="0.7">-1.00</text></g>
<g transform="translate(30.1,10.7)"><rect class="lb k15" x="-2.6" y="-1.2" width="5.2" height="2.4" rx="1"/><text class="lt" y="0.7">-1.50</text></g>
<g transform="translate(26.4,16)"><rect class="lb k2" x="-2.6" y="-1.2" width="5.2" height="2.4" rx="1"/><text class="lt" y="0.7">-2.00</text></g>
<g transform="translate(22.9,29.3) rotate(-90)"><rect class="lb k25" x="-2.6" y="-1.2" width="5.2" height="2.4" rx="1"/><text class="lt" y="0.7">-2.50</text></g>
<g transform="translate(65.3,0.1)"><rect class="lb kp6" x="-2.6" y="-1.2" width="5.2" height="2.4" rx="1"/><text class="lt" y="0.7">6.00</text></g>
<g transform="translate(70,1.8)"><rect class="lb kp4" x="-2.6" y="-1.2" width="5.2" height="2.4" rx="1"/><text class="lt" y="0.7">4.00</text></g>
<g transform="translate(74.7,3.1)"><rect class="lb kp2" x="-2.6" y="-1.2" width="5.2" height="2.4" rx="1"/><text class="lt" y="0.7">2.00</text></g>
<g transform="translate(65.9,4.8)"><rect class="lb k2" x="-2.6" y="-1.2" width="5.2" height="2.4" rx="1"/><text class="lt" y="0.7">-2.00</text></g>
<g transform="translate(79,5.2)"><rect class="lb k15" x="-2.6" y="-1.2" width="5.2" height="2.4" rx="1"/><text class="lt" y="0.7">-1.50</text></g>
<g transform="translate(92.3,4.5)"><rect class="lb k0" x="-2.6" y="-1.2" width="5.2" height="2.4" rx="1"/><text class="lt" y="0.7">0.00</text></g>
<g transform="translate(98.5,6.3)"><rect class="lb k1" x="-2.6" y="-1.2" width="5.2" height="2.4" rx="1"/><text class="lt" y="0.7">-1.00</text></g>
<g transform="translate(66.3,14.2)"><rect class="lb k3" x="-2.6" y="-1.2" width="5.2" height="2.4" rx="1"/><text class="lt" y="0.7">-3.00</text></g>
<g transform="translate(109.4,28.5) rotate(-90)"><rect class="lb k25" x="-2.6" y="-1.2" width="5.2" height="2.4" rx="1"/><text class="lt" y="0.7">-2.50</text></g>
<g transform="translate(139.3,10.7)"><rect class="lb kp6" x="-2.6" y="-1.2" width="5.2" height="2.4" rx="1"/><text class="lt" y="0.7">6.00</text></g>
<g transform="translate(132.2,12.4)"><rect class="lb k1" x="-2.6" y="-1.2" width="5.2" height="2.4" rx="1"/><text class="lt" y="0.7">-1.00</text></g>
<g transform="translate(142.2,13.6)"><rect class="lb kp2" x="-2.6" y="-1.2" width="5.2" height="2.4" rx="1"/><text class="lt" y="0.7">2.00</text></g>
<g transform="translate(140.9,16.9)"><rect class="lb k15" x="-2.6" y="-1.2" width="5.2" height="2.4" rx="1"/><text class="lt" y="0.7">-1.50</text></g>
<g transform="translate(134.2,21.1)"><rect class="lb k2" x="-2.6" y="-1.2" width="5.2" height="2.4" rx="1"/><text class="lt" y="0.7">-2.00</text></g>
</g>

<!-- ================= September panel 3 ================= -->
<g transform="translate(292,3052) scale(11.72)">
<use href="#ax"/><use href="#sf"/>
<text class="tk" x="-0.7" y="0.7" text-anchor="end">0</text><text class="tk" x="-0.7" y="10.7" text-anchor="end">-10</text><text class="tk" x="-0.7" y="20.7" text-anchor="end">-20</text><text class="tk" x="-0.7" y="30.7" text-anchor="end">-30</text>
<text class="tk" x="20" y="36.9" text-anchor="middle">20</text><text class="tk" x="40" y="36.9" text-anchor="middle">40</text><text class="tk" x="60" y="36.9" text-anchor="middle">60</text><text class="tk" x="80" y="36.9" text-anchor="middle">80</text><text class="tk" x="100" y="36.9" text-anchor="middle">100</text><text class="tk" x="120" y="36.9" text-anchor="middle">120</text><text class="tk" x="140" y="36.9" text-anchor="middle">140</text>
<text class="rcp" x="139.7" y="2.6" textLength="14.2" lengthAdjust="spacingAndGlyphs">RCP 8.5</text>
<g transform="translate(30.6,3.5)"><rect class="lb k0" x="-2.6" y="-1.2" width="5.2" height="2.4" rx="1"/><text class="lt" y="0.7">0.00</text></g>
<g transform="translate(36.4,3.2)"><rect class="lb kp2" x="-2.6" y="-1.2" width="5.2" height="2.4" rx="1"/><text class="lt" y="0.7">2.00</text></g>
<g transform="translate(44,2.2)"><rect class="lb kp4" x="-2.6" y="-1.2" width="5.2" height="2.4" rx="1"/><text class="lt" y="0.7">4.00</text></g>
<g transform="translate(50.4,1.4)"><rect class="lb kp6" x="-2.6" y="-1.2" width="5.2" height="2.4" rx="1"/><text class="lt" y="0.7">6.00</text></g>
<g transform="translate(36.4,6.6)"><rect class="lb k1" x="-2.6" y="-1.2" width="5.2" height="2.4" rx="1"/><text class="lt" y="0.7">-1.00</text></g>
<g transform="translate(35.1,10.4)"><rect class="lb k15" x="-2.6" y="-1.2" width="5.2" height="2.4" rx="1"/><text class="lt" y="0.7">-1.50</text></g>
<g transform="translate(30.6,15.4)"><rect class="lb k2" x="-2.6" y="-1.2" width="5.2" height="2.4" rx="1"/><text class="lt" y="0.7">-2.00</text></g>
<g transform="translate(23,29.5) rotate(-90)"><rect class="lb k25" x="-2.6" y="-1.2" width="5.2" height="2.4" rx="1"/><text class="lt" y="0.7">-2.50</text></g>
<g transform="translate(70,0.7)"><rect class="lb kp6" x="-2.6" y="-1.2" width="5.2" height="2.4" rx="1"/><text class="lt" y="0.7">6.00</text></g>
<g transform="translate(76.2,2.3)"><rect class="lb kp4" x="-2.6" y="-1.2" width="5.2" height="2.4" rx="1"/><text class="lt" y="0.7">4.00</text></g>
<g transform="translate(82.6,3)"><rect class="lb kp2" x="-2.6" y="-1.2" width="5.2" height="2.4" rx="1"/><text class="lt" y="0.7">2.00</text></g>
<g transform="translate(89.1,4.9)"><rect class="lb k1" x="-2.6" y="-1.2" width="5.2" height="2.4" rx="1"/><text class="lt" y="0.7">-1.00</text></g>
<g transform="translate(96.8,5.2)"><rect class="lb k0" x="-2.6" y="-1.2" width="5.2" height="2.4" rx="1"/><text class="lt" y="0.7">0.00</text></g>
<g transform="translate(65.6,5.8)"><rect class="lb k2" x="-2.6" y="-1.2" width="5.2" height="2.4" rx="1"/><text class="lt" y="0.7">-2.00</text></g>
<g transform="translate(79.9,5.8)"><rect class="lb k15" x="-2.6" y="-1.2" width="5.2" height="2.4" rx="1"/><text class="lt" y="0.7">-1.50</text></g>
<g transform="translate(71.7,14.4)"><rect class="lb k3" x="-2.6" y="-1.2" width="5.2" height="2.4" rx="1"/><text class="lt" y="0.7">-3.00</text></g>
<g transform="translate(108,29.3) rotate(-90)"><rect class="lb k25" x="-2.6" y="-1.2" width="5.2" height="2.4" rx="1"/><text class="lt" y="0.7">-2.50</text></g>
<g transform="translate(134.6,11.4)"><rect class="lb kp2" x="-2.6" y="-1.2" width="5.2" height="2.4" rx="1"/><text class="lt" y="0.7">2.00</text></g>
<g transform="translate(136.9,14.5)"><rect class="lb k1" x="-2.6" y="-1.2" width="5.2" height="2.4" rx="1"/><text class="lt" y="0.7">-1.00</text></g>
<g transform="translate(142.5,14.3)"><rect class="lb k0" x="-2.6" y="-1.2" width="5.2" height="2.4" rx="1"/><text class="lt" y="0.7">0.00</text></g>
<g transform="translate(140.8,18)"><rect class="lb k15" x="-2.6" y="-1.2" width="5.2" height="2.4" rx="1"/><text class="lt" y="0.7">-1.50</text></g>
<g transform="translate(128.1,20.8)"><rect class="lb k2" x="-2.6" y="-1.2" width="5.2" height="2.4" rx="1"/><text class="lt" y="0.7">-2.00</text></g>
</g>
</svg>
</body></html>
